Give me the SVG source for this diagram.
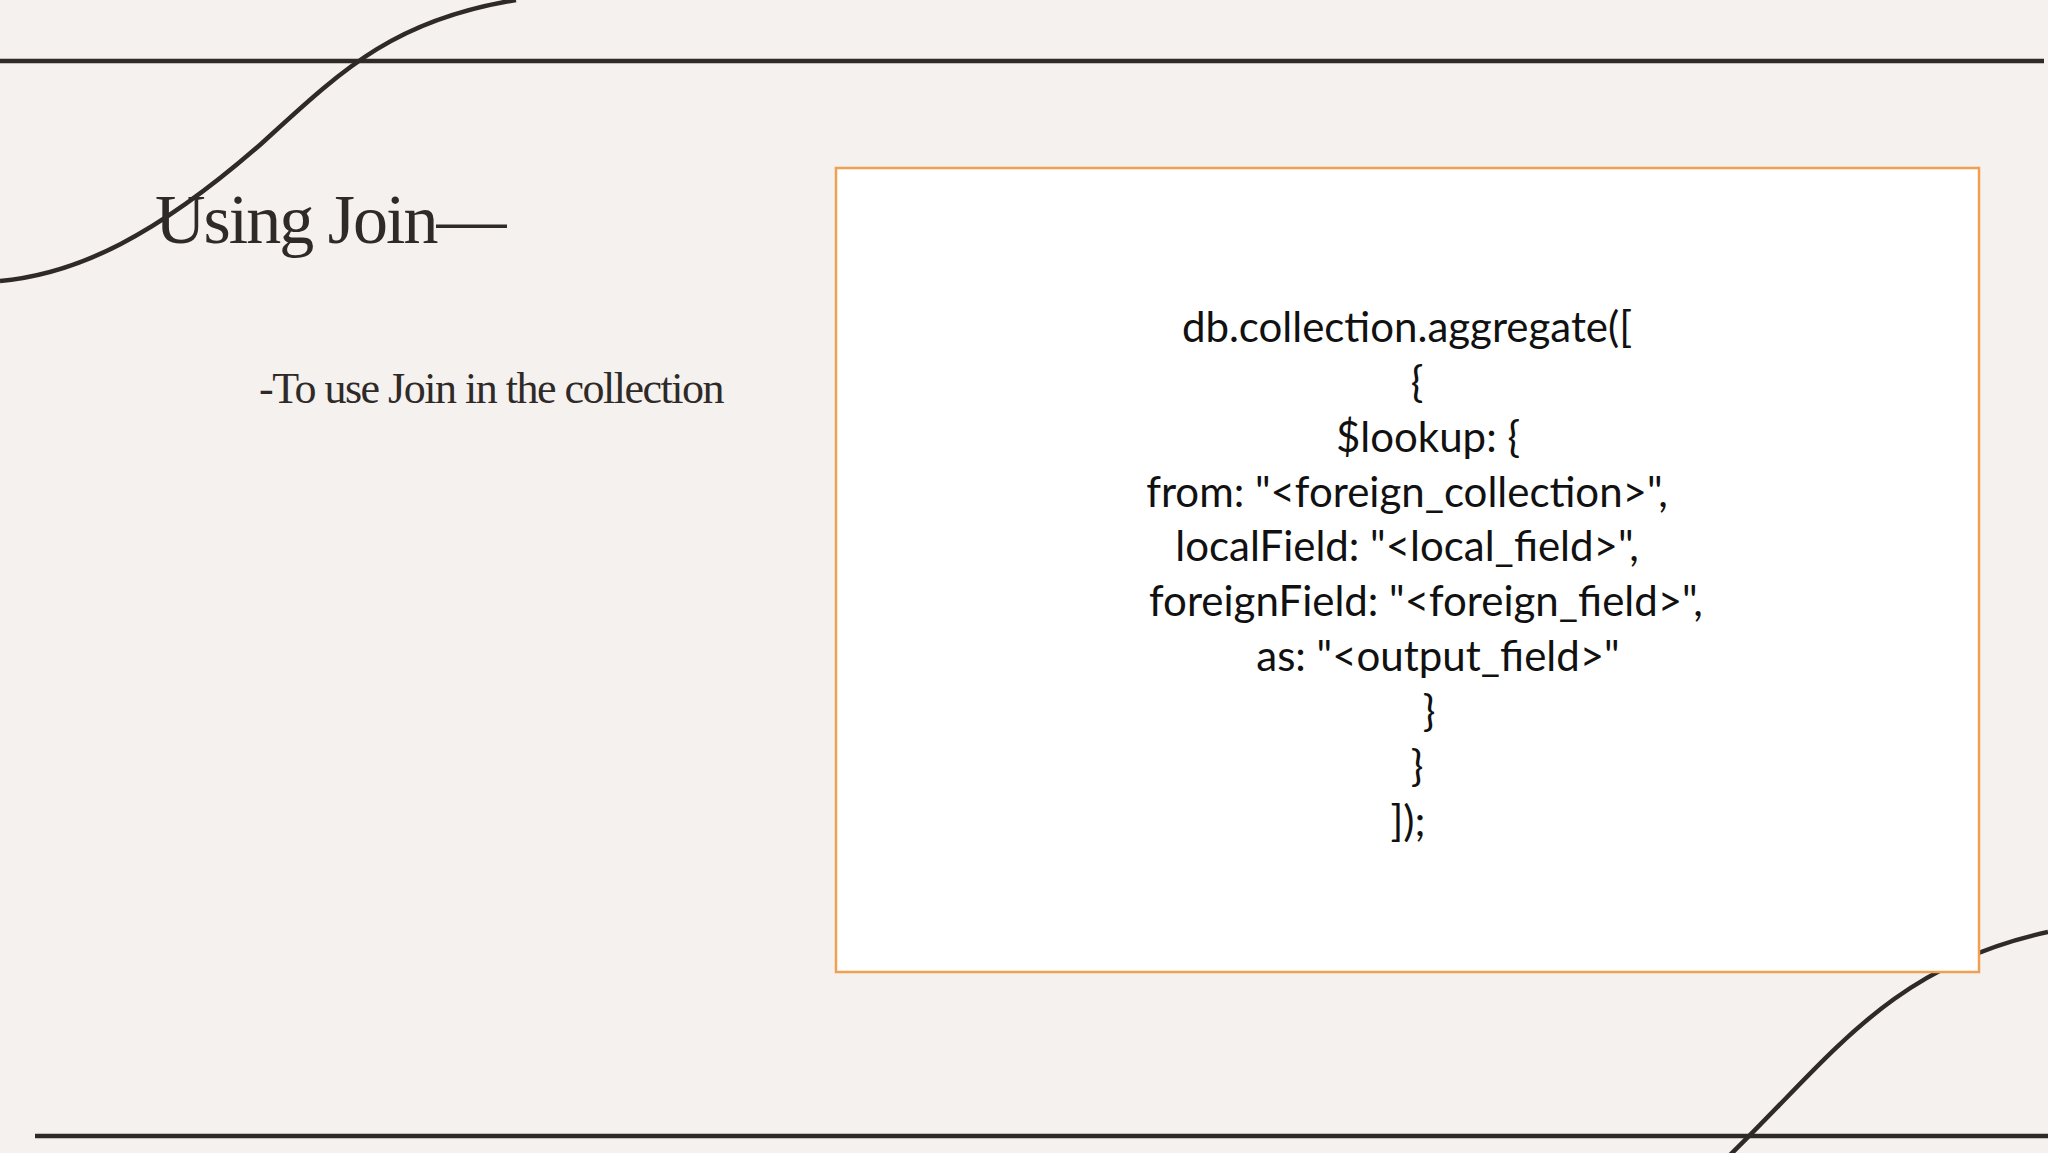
<svg xmlns="http://www.w3.org/2000/svg" width="2048" height="1153" viewBox="0 0 2048 1153">
<style>
.ln{stroke:#2f2a27;stroke-width:4.5;fill:none}
.code{font-family:Lato,"Liberation Sans",sans-serif;font-size:42px;fill:#111;text-anchor:middle}
</style>
<rect width="2048" height="1153" fill="#f4f1ee"/>
<g id="decor">
<line class="ln" x1="0" y1="61" x2="2044" y2="61"/>
<line class="ln" x1="35" y1="1136" x2="2048" y2="1136"/>
<path class="ln" d="M0,281 C78,274 157,235 261,144 C340,72 392,20 516,0"/>
<path class="ln" d="M1730,1155 C1830,1058 1890,966 2048,932"/>
</g>
<g id="title"><text x="155" y="243" font-family="'Liberation Serif',serif" font-size="70" fill="#2f2a27" letter-spacing="-2">Using Join—</text></g>
<g id="subtitle"><text x="259" y="403" font-family="'Liberation Serif',serif" font-size="44" fill="#2f2a27" letter-spacing="-1.5">-To use Join in the collection</text></g>
<g id="codebox">
<rect x="836" y="168" width="1143" height="804" fill="#fff" stroke="#f0a050" stroke-width="2.5"/>
<text class="code" x="1407" y="342">db.collection.aggregate([</text>
<text class="code" x="1417" y="397">{</text>
<text class="code" x="1428" y="452">$lookup: {</text>
<text class="code" x="1407" y="507">from: "&lt;foreign_collection&gt;",</text>
<text class="code" x="1407" y="561">localField: "&lt;local_field&gt;",</text>
<text class="code" x="1426" y="616">foreignField: "&lt;foreign_field&gt;",</text>
<text class="code" x="1438" y="671">as: "&lt;output_field&gt;"</text>
<text class="code" x="1429" y="726">}</text>
<text class="code" x="1417" y="781">}</text>
<text class="code" x="1408" y="836">]);</text>
</g>
</svg>
